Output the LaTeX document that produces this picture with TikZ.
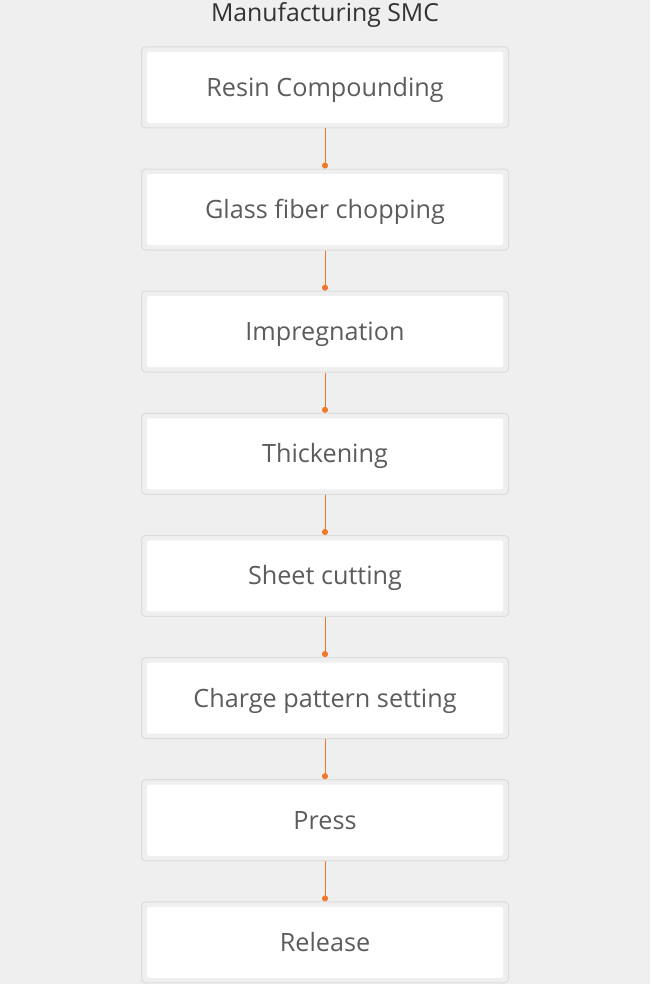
\documentclass[tikz,border=0pt]{standalone}
\usepackage{fontspec}
\setmainfont{Open Sans}
\usetikzlibrary{arrows.meta}

\definecolor{pagebg}{HTML}{EFEFEF}
\definecolor{frameline}{HTML}{DCDCDC}
\definecolor{steptext}{HTML}{5C5C5C}
\definecolor{titletext}{HTML}{333333}
\definecolor{linkorange}{HTML}{F07828}

\tikzset{
  framebox/.style={draw=frameline, fill=pagebg, line width=1pt, rounded corners=4pt,
    minimum width=367pt, minimum height=81pt, inner sep=0pt},
  stepbox/.style={fill=white, rounded corners=2pt, minimum width=356pt, minimum height=71pt,
    inner sep=0pt, text=steptext, font=\fontsize{25.2}{29}\selectfont,
    text height=18pt, text depth=0pt},
  link/.style={draw=linkorange, line width=0.8pt, -{Circle[length=6pt]}}
}

\begin{document}
\begin{tikzpicture}[x=1pt, y=-1pt]

        % Background
        \fill[pagebg] (0,0) rectangle (650,984);
        \useasboundingbox (0,0) rectangle (650,984);

        % Title
        \node[text=titletext, font=\fontsize{24.8}{29}\selectfont, text height=17.7pt, text depth=0pt]
          (title) at (325,12.5) {Manufacturing SMC};

        % Steps (frame + white card)
        \foreach \i/\txt in {1/Resin Compounding, 2/Glass fiber chopping, 3/Impregnation,
                             4/Thickening, 5/Sheet cutting, 6/Charge pattern setting,
                             7/Press, 8/Release} {
          \node[framebox] (f\i) at (325,{87.4+122.14*(\i-1)}) {};
          \node[stepbox] (s\i) at (f\i) {\txt};
        }

        % Connectors
        \foreach \i [evaluate=\i as \j using int(\i+1)] in {1,...,7} {
          \draw[link] (f\i.south) -- (f\j.north);
        }

      \end{tikzpicture}
\end{document}
